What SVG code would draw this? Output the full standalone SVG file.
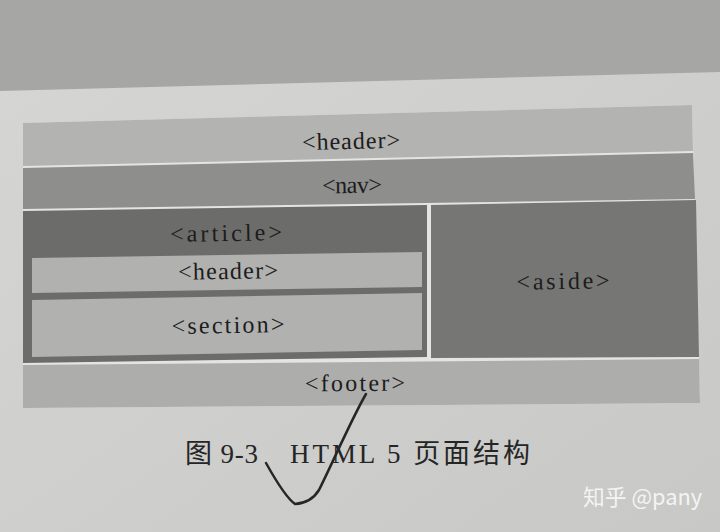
<svg xmlns="http://www.w3.org/2000/svg" width="720" height="532" viewBox="0 0 720 532">
  <style>
    .lbl { font-family: "Liberation Serif", "Noto Sans CJK SC", serif; font-size: 24px; fill: #1c1c1c; text-anchor: middle; }
    .cap { font-family: "Liberation Serif", "Noto Sans CJK SC", serif; font-size: 27px; fill: #252525; }
    .wm { font-family: "Noto Sans CJK SC", "Liberation Sans", sans-serif; font-size: 22px; fill: #f4f4f4; }
  </style>
  <defs>
    <linearGradient id="pageGrad" x1="0" y1="0" x2="1" y2="1">
      <stop offset="0" stop-color="#d6d6d4"/>
      <stop offset="1" stop-color="#c8c8c6"/>
    </linearGradient>
  </defs>
  <rect x="0" y="0" width="720" height="532" fill="url(#pageGrad)"/>
  <polygon points="0,0 720,0 720,72 0,91" fill="#a6a6a4"/>
  <polygon points="23,123 692,105 700,403 23,408" fill="#e4e4e2"/>

  <g id="header">
    <polygon points="23,123 692,105 693,151 23,166" fill="#b3b3b1"/>
    <text class="lbl" x="351" y="149" textLength="98" lengthAdjust="spacing" transform="rotate(-1.4 351 141)">&lt;header&gt;</text>
  </g>
  <g id="nav">
    <polygon points="23,168 693,153 695,199 23,209" fill="#8e8e8c"/>
    <text class="lbl" x="352" y="193" textLength="60" lengthAdjust="spacing" transform="rotate(-1 352 185)">&lt;nav&gt;</text>
  </g>
  <g id="article">
    <polygon points="23,211 427,205 427,357 23,363" fill="#6c6c6a"/>
    <text class="lbl" x="226" y="241" textLength="112" lengthAdjust="spacing" transform="rotate(-0.9 226 233)">&lt;article&gt;</text>
  </g>
  <g id="article-header">
    <polygon points="32,258 422,252 422,287 32,293" fill="#b1b1af"/>
    <text class="lbl" x="228" y="279" textLength="100" lengthAdjust="spacing" transform="rotate(-0.9 228 271)">&lt;header&gt;</text>
  </g>
  <g id="section">
    <polygon points="32,300 422,293 422,350 32,357" fill="#b1b1af"/>
    <text class="lbl" x="228" y="333" textLength="113" lengthAdjust="spacing" transform="rotate(-0.9 228 325)">&lt;section&gt;</text>
  </g>
  <g id="aside">
    <polygon points="431,205 696,200 699,357 431,358" fill="#767674"/>
    <text class="lbl" x="563" y="289" textLength="93" lengthAdjust="spacing" transform="rotate(-0.8 563 281)">&lt;aside&gt;</text>
  </g>
  <g id="footer">
    <polygon points="23,365 699,359 700,403 23,408" fill="#adadab"/>
    <text class="lbl" x="355" y="391" textLength="100" lengthAdjust="spacing" transform="rotate(-0.5 355 383)">&lt;footer&gt;</text>
  </g>

  <g id="caption">
    <text class="cap" y="463"><tspan x="185" textLength="73" lengthAdjust="spacing">图 9-3</tspan><tspan x="290" textLength="240" lengthAdjust="spacing">HTML 5 页面结构</tspan></text>
  </g>

  <g id="connectors">
    <path d="M366,394 C352,418 333,462 319,490 Q311,503 295,504 Q285,497 266,463" fill="none" stroke="#262626" stroke-width="2.5" stroke-linecap="round" stroke-linejoin="round"/>
  </g>

  <g id="watermark">
    <text class="wm" x="583" y="505" textLength="119" lengthAdjust="spacingAndGlyphs">知乎 @pany</text>
  </g>
</svg>
